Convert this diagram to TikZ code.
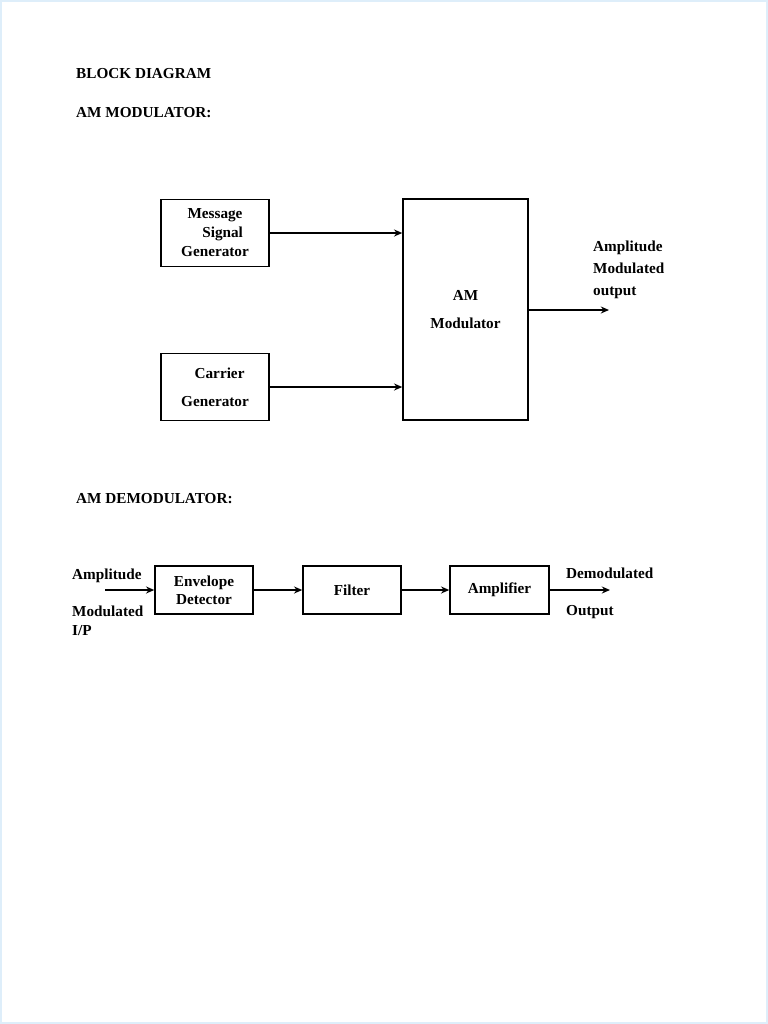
\documentclass[tikz,border=0pt]{standalone}
\usepackage{fontspec}
\setmainfont{Liberation Serif}
\usetikzlibrary{arrows.meta}
\definecolor{pageedge}{RGB}{222,238,250}
\tikzstyle{every node}=[font=\fontsize{13}{15.7}\selectfont\bfseries]
\tikzstyle{block}=[rectangle, draw, line width=1.3pt, align=center, inner sep=2pt]
\tikzstyle{label}=[anchor=base west, inner sep=0pt, align=left]
\tikzstyle{sig}=[line width=1.4pt, -{Stealth[length=7pt,width=6pt]}]

\begin{document}
\begin{tikzpicture}[x=0.03cm, y=-0.03cm]
      \useasboundingbox (0,0) rectangle (768,1024);
      \draw[pageedge, line width=1.5pt] (1,1) rectangle (767,1023);
      \node[label] (title) at (76,78) {BLOCK DIAGRAM};
      \node[label] (modtitle) at (76,117) {AM MODULATOR:};
      \node[block, minimum width=3.24cm, minimum height=2.01cm, font=\fontsize{13}{16.2}\selectfont\bfseries]
	(message) at (215,233) {Message\\\hspace*{1em}Signal\\Generator};
      \node[block, minimum width=3.24cm, minimum height=2.01cm]
	(carrier) at (215,387) {\hspace*{0.6em}Carrier\\[8pt]Generator};
      \node[block, minimum width=3.75cm, minimum height=6.63cm]
	(am) at (465.5,309.5) {AM\\[8pt]Modulator};
      \coordinate (amout) at (609,310);
      \node[label, font=\fontsize{13}{18.7}\selectfont\bfseries]
	(amtext) at (593,295) {Amplitude\\Modulated\\output};
	\draw[sig] (message.east) -- (message.east -| am.west);
	\draw[sig] (carrier.east) -- (carrier.east -| am.west);
	\draw[sig] (am.east |- amout) -- (amout);
      \node[label] (demodtitle) at (76,503) {AM DEMODULATOR:};
      \node[block, minimum width=2.94cm, minimum height=1.44cm, font=\fontsize{13}{15}\selectfont\bfseries]
	(envelope) at (204,590) {Envelope\\Detector};
      \node[block, minimum width=2.94cm, minimum height=1.44cm]
	(filter) at (352,590) {Filter};
      \node[block, minimum width=2.97cm, minimum height=1.44cm]
	(amplifier) at (499.5,590) {Amplifier};
      \coordinate (demodin) at (105,590);
      \coordinate (demodout) at (610,590);
      \node[label] (intop) at (72,579) {Amplitude};
      \node[label, font=\fontsize{13}{16}\selectfont\bfseries]
	(inbottom) at (72,635) {Modulated\\I/P};
      \node[label] (outtop) at (566,578) {Demodulated};
      \node[label] (outbottom) at (566,615) {Output};
	\draw[sig] (demodin) -- (envelope);
	\draw[sig] (envelope) -- (filter);
	\draw[sig] (filter) -- (amplifier);
	\draw[sig] (amplifier) -- (demodout);
      \end{tikzpicture}
\end{document}
